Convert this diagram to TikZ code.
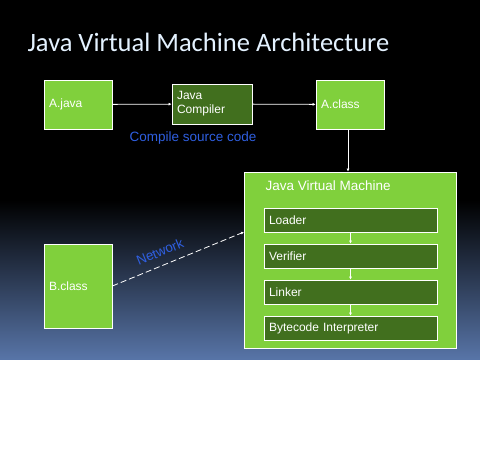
\documentclass[tikz,border=0pt]{standalone}
\usepackage{fontspec}
\setmainfont{Liberation Sans}
\newfontfamily\titlefont{Carlito}
\usetikzlibrary{arrows.meta}

\definecolor{litegreen}{HTML}{80D03C}
\definecolor{darkgreen}{HTML}{416F1E}
\definecolor{netblue}{HTML}{2F5FE0}
\definecolor{skyblue}{HTML}{5875A8}
\definecolor{titlewhite}{HTML}{E4F2FF}

\tikzset{
  box/.style={draw=white,line width=0.8pt,fill=litegreen,text=white,
    inner xsep=5pt,inner ysep=0pt,align=left},
  stage/.style={box,fill=darkgreen,minimum width=173pt,text width=163pt,minimum height=24pt},
  link/.style={draw=white,line width=0.8pt,-{Latex[length=3pt,width=3pt]}},
  note/.style={text=netblue,font=\fontsize{13.5}{15}\selectfont}
}

\begin{document}
\begin{tikzpicture}[x=1pt,y=-1pt,font=\fontsize{12}{14}\selectfont]
	\useasboundingbox (0,0) rectangle (480,465);
	% slide background
	\fill[black] (0,0) rectangle (480,200);
	\shade[top color=black,bottom color=skyblue] (0,200) rectangle (480,360);
	\fill[white] (0,360) rectangle (480,465);

	\node[anchor=base west,text=titlewhite,font=\titlefont\fontsize{26.5}{30}\selectfont] (title) at (24,52) {Java Virtual Machine Architecture};

	% compile step
	\node[box,minimum width=68pt,text width=58pt,minimum height=49pt] (ajava) at (78,104.5) {A.java};
	\node[box,fill=darkgreen,minimum width=80pt,text width=70pt,minimum height=40pt] (javac) at (212,104) {Java\\Compiler};
	\node[box,minimum width=68pt,text width=58pt,minimum height=49pt] (aclass) at (350,104.5) {A.class};
	\node[note] (compile) at (193,138) {Compile source code};
	\draw[link] (ajava) -- (javac);
	\draw[link] (javac) -- (aclass);

	% virtual machine
	\node[box,minimum width=212pt,minimum height=176pt] (jvm) at (350,260) {};
	\node[anchor=west,text=white,font=\fontsize{13.5}{15}\selectfont] (jvmtitle) at (262,186) {Java Virtual Machine};
	\foreach \name/\text/\ypos in {loader/Loader/220, verifier/Verifier/256, linker/Linker/292, interp/Bytecode Interpreter/328} {
		\node[stage] (\name) at (350.5,\ypos) {\text};
	}
	\foreach \from/\to in {loader/verifier, verifier/linker, linker/interp} {
		\draw[link] (\from) -- (\to);
	}
	\draw[link] ([xshift=-2pt]aclass.south) -- ([xshift=-2pt]aclass.south |- jvm.north);

	% remote class
	\node[box,minimum width=68pt,text width=58pt,minimum height=84pt] (bclass) at (78,286) {B.class};
	\coordinate (netend) at (244,232);
	\draw[link,dashed,dash pattern=on 6pt off 3pt] (bclass.east) -- (netend)
		node[note,pos=0.4,above=5pt,sloped] (network) {Network};
\end{tikzpicture}
\end{document}
